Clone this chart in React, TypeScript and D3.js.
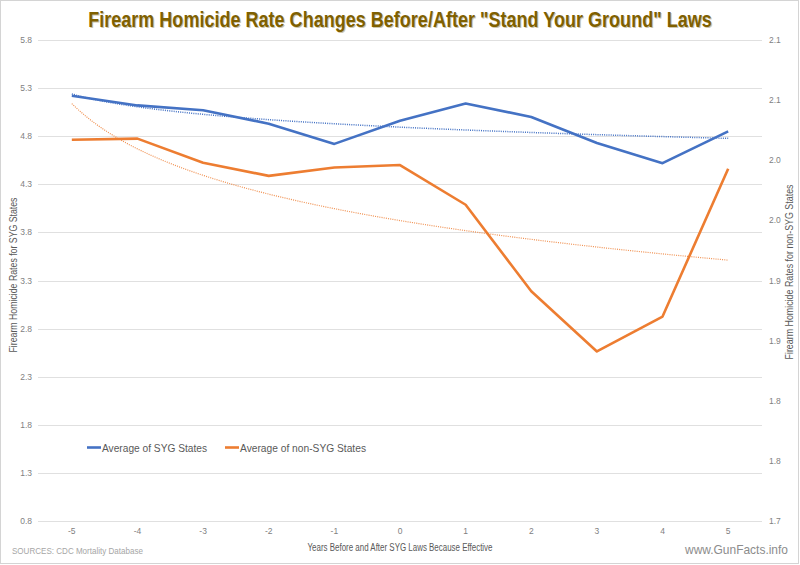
import { useEffect, useRef } from 'react'
import * as d3 from 'd3'

const years = [-5, -4, -3, -2, -1, 0, 1, 2, 3, 4, 5]
const sygRates = [5.22, 5.12, 5.07, 4.93, 4.72, 4.96, 5.14, 5.0, 4.73, 4.52, 4.85]
const nonSygRates = [2.017, 2.018, 1.998, 1.987, 1.994, 1.996, 1.963, 1.891, 1.841, 1.87, 1.993]

const leftTicks = [0.8, 1.3, 1.8, 2.3, 2.8, 3.3, 3.8, 4.3, 4.8, 5.3, 5.8]
const rightTicks = [1.7, 1.75, 1.8, 1.85, 1.9, 1.95, 2.0, 2.05, 2.1]
const rightTickLabels = ['1.7', '1.8', '1.8', '1.9', '1.9', '2.0', '2.0', '2.1', '2.1']

const TITLE = 'Firearm Homicide Rate Changes Before/After "Stand Your Ground" Laws'
const BLUE = '#4472C4'
const ORANGE = '#ED7D31'
const FONT = '"Liberation Sans", Arial, sans-serif'

// least-squares fit of y = a + b*ln(n), n = 1..N (Excel-style log trendline)
function logFit(values: number[]) {
  const lx = values.map((_, i) => Math.log(i + 1))
  const mx = d3.mean(lx) as number
  const my = d3.mean(values) as number
  let sxy = 0
  let sxx = 0
  lx.forEach((x, i) => {
    sxy += (x - mx) * (values[i] - my)
    sxx += (x - mx) * (x - mx)
  })
  const b = sxy / sxx
  const a = my - b * mx
  return (n: number) => a + b * Math.log(n)
}

export default function App() {
  const svgRef = useRef<SVGSVGElement>(null)
  const width = 800
  const height = 565

  useEffect(() => {
    if (!svgRef.current) return
    const svg = d3.select(svgRef.current)
    svg.selectAll('*').remove()

    const plotLeft = 39
    const plotRight = 761
    const plotTop = 40
    const plotBottom = 521

    const x = d3.scaleLinear().domain([-5.5, 5.5]).range([plotLeft, plotRight])
    const yLeft = d3.scaleLinear().domain([0.8, 5.8]).range([plotBottom, plotTop])
    const yRight = d3.scaleLinear().domain([1.7, 2.1]).range([plotBottom, plotTop])

    // background + frame
    svg.append('rect')
      .attr('x', 0).attr('y', 0)
      .attr('width', width).attr('height', height)
      .attr('fill', '#ffffff')
    svg.append('rect')
      .attr('x', 0.5).attr('y', 0.5)
      .attr('width', width - 2).attr('height', height - 2)
      .attr('fill', 'none')
      .attr('stroke', '#d4d4d4')

    // condensed text: squeeze a regular face into a fixed width
    const narrow = (sel: d3.Selection<SVGTextElement, unknown, null, undefined>, len: number) =>
      sel.attr('textLength', len).attr('lengthAdjust', 'spacingAndGlyphs')

    // title with a soft shadow, horizontally condensed
    const titleG = svg.append('g')
      .attr('transform', 'translate(400,27) scale(0.82,1)')
      .attr('font-family', FONT)
      .attr('font-weight', 'bold')
      .attr('font-size', 22)
      .attr('text-anchor', 'middle')
    titleG.append('text')
      .attr('x', 1.2).attr('y', 1)
      .attr('fill', '#cdc6ac')
      .text(TITLE)
    titleG.append('text')
      .attr('x', 0).attr('y', 0)
      .attr('fill', '#7F6000')
      .text(TITLE)

    // gridlines
    svg.append('g')
      .selectAll('line')
      .data(leftTicks)
      .enter().append('line')
      .attr('x1', plotLeft - 1).attr('x2', plotRight + 1)
      .attr('y1', d => Math.round(yLeft(d)) + 0.5)
      .attr('y2', d => Math.round(yLeft(d)) + 0.5)
      .attr('stroke', '#e0e0e0')
      .attr('stroke-width', 1)

    // left axis labels
    svg.append('g')
      .selectAll('text')
      .data(leftTicks)
      .enter().append('text')
      .attr('x', 32)
      .attr('y', d => yLeft(d) + 3)
      .attr('text-anchor', 'end')
      .attr('font-family', FONT)
      .attr('font-size', 8.5)
      .attr('fill', '#7f7f7f')
      .text(d => d.toFixed(1))

    // right axis labels
    svg.append('g')
      .selectAll('text')
      .data(rightTicks)
      .enter().append('text')
      .attr('x', 769)
      .attr('y', d => yRight(d) + 3)
      .attr('text-anchor', 'start')
      .attr('font-family', FONT)
      .attr('font-size', 8.5)
      .attr('fill', '#7f7f7f')
      .text((_, i) => rightTickLabels[i])

    // x axis labels
    svg.append('g')
      .selectAll('text')
      .data(years)
      .enter().append('text')
      .attr('x', d => x(d))
      .attr('y', 534)
      .attr('text-anchor', 'middle')
      .attr('font-family', FONT)
      .attr('font-size', 8.5)
      .attr('fill', '#7f7f7f')
      .text(d => String(d))

    // axis titles
    narrow(svg.append('text')
      .attr('x', 400).attr('y', 551)
      .attr('text-anchor', 'middle')
      .attr('font-family', FONT)
      .attr('font-size', 10)
      .attr('fill', '#595959')
      .text('Years Before and After SYG Laws Because Effective'), 185)

    narrow(svg.append('text')
      .attr('transform', 'translate(17,275) rotate(-90)')
      .attr('text-anchor', 'middle')
      .attr('font-family', FONT)
      .attr('font-size', 10)
      .attr('fill', '#595959')
      .text('Firearm Homicide Rates for SYG States'), 155)

    narrow(svg.append('text')
      .attr('transform', 'translate(793,272) rotate(-90)')
      .attr('text-anchor', 'middle')
      .attr('font-family', FONT)
      .attr('font-size', 10)
      .attr('fill', '#595959')
      .text('Firearm Homicide Rates for non-SYG States'), 175)

    // trendlines
    const sygFit = logFit(sygRates)
    const nonSygFit = logFit(nonSygRates)
    const samples = d3.range(1, 11.001, 0.1)

    svg.append('path')
      .datum(samples)
      .attr('fill', 'none')
      .attr('stroke', BLUE)
      .attr('stroke-width', 1.5)
      .attr('stroke-dasharray', '1 1.2')
      .attr('d', d3.line<number>()
        .x(n => x(n - 6))
        .y(n => yLeft(sygFit(n))))

    svg.append('path')
      .datum(samples)
      .attr('fill', 'none')
      .attr('stroke', ORANGE)
      .attr('stroke-width', 1.2)
      .attr('stroke-opacity', 0.85)
      .attr('stroke-dasharray', '1 1.2')
      .attr('d', d3.line<number>()
        .x(n => x(n - 6))
        .y(n => yRight(nonSygFit(n))))

    // series lines
    svg.append('path')
      .datum(sygRates)
      .attr('fill', 'none')
      .attr('stroke', BLUE)
      .attr('stroke-width', 2.6)
      .attr('stroke-linejoin', 'round')
      .attr('d', d3.line<number>()
        .x((_, i) => x(years[i]))
        .y(d => yLeft(d)))

    svg.append('path')
      .datum(nonSygRates)
      .attr('fill', 'none')
      .attr('stroke', ORANGE)
      .attr('stroke-width', 2.6)
      .attr('stroke-linejoin', 'round')
      .attr('d', d3.line<number>()
        .x((_, i) => x(years[i]))
        .y(d => yRight(d)))

    // legend
    const legend = [
      { label: 'Average of SYG States', color: BLUE, x: 87, w: 105 },
      { label: 'Average of non-SYG States', color: ORANGE, x: 225, w: 126 },
    ]
    const lg = svg.append('g')
    legend.forEach(item => {
      lg.append('line')
        .attr('x1', item.x).attr('x2', item.x + 14)
        .attr('y1', 447.5).attr('y2', 447.5)
        .attr('stroke', item.color)
        .attr('stroke-width', 2.6)
      narrow(lg.append('text')
        .attr('x', item.x + 15).attr('y', 451.5)
        .attr('font-family', FONT)
        .attr('font-size', 10.5)
        .attr('fill', '#595959')
        .text(item.label), item.w)
    })

    // footer notes
    narrow(svg.append('text')
      .attr('x', 12).attr('y', 554)
      .attr('font-family', FONT)
      .attr('font-size', 9)
      .attr('fill', '#a6a6a6')
      .text('SOURCES: CDC Mortality Database'), 131)

    narrow(svg.append('text')
      .attr('x', 788).attr('y', 554)
      .attr('text-anchor', 'end')
      .attr('font-family', FONT)
      .attr('font-size', 13)
      .attr('fill', '#8c8c8c')
      .text('www.GunFacts.info'), 103)
  }, [])

  return (
    <svg
      ref={svgRef}
      width={width}
      height={height}
      style={{ position: 'absolute', left: 0, top: 0 }}
    />
  )
}
